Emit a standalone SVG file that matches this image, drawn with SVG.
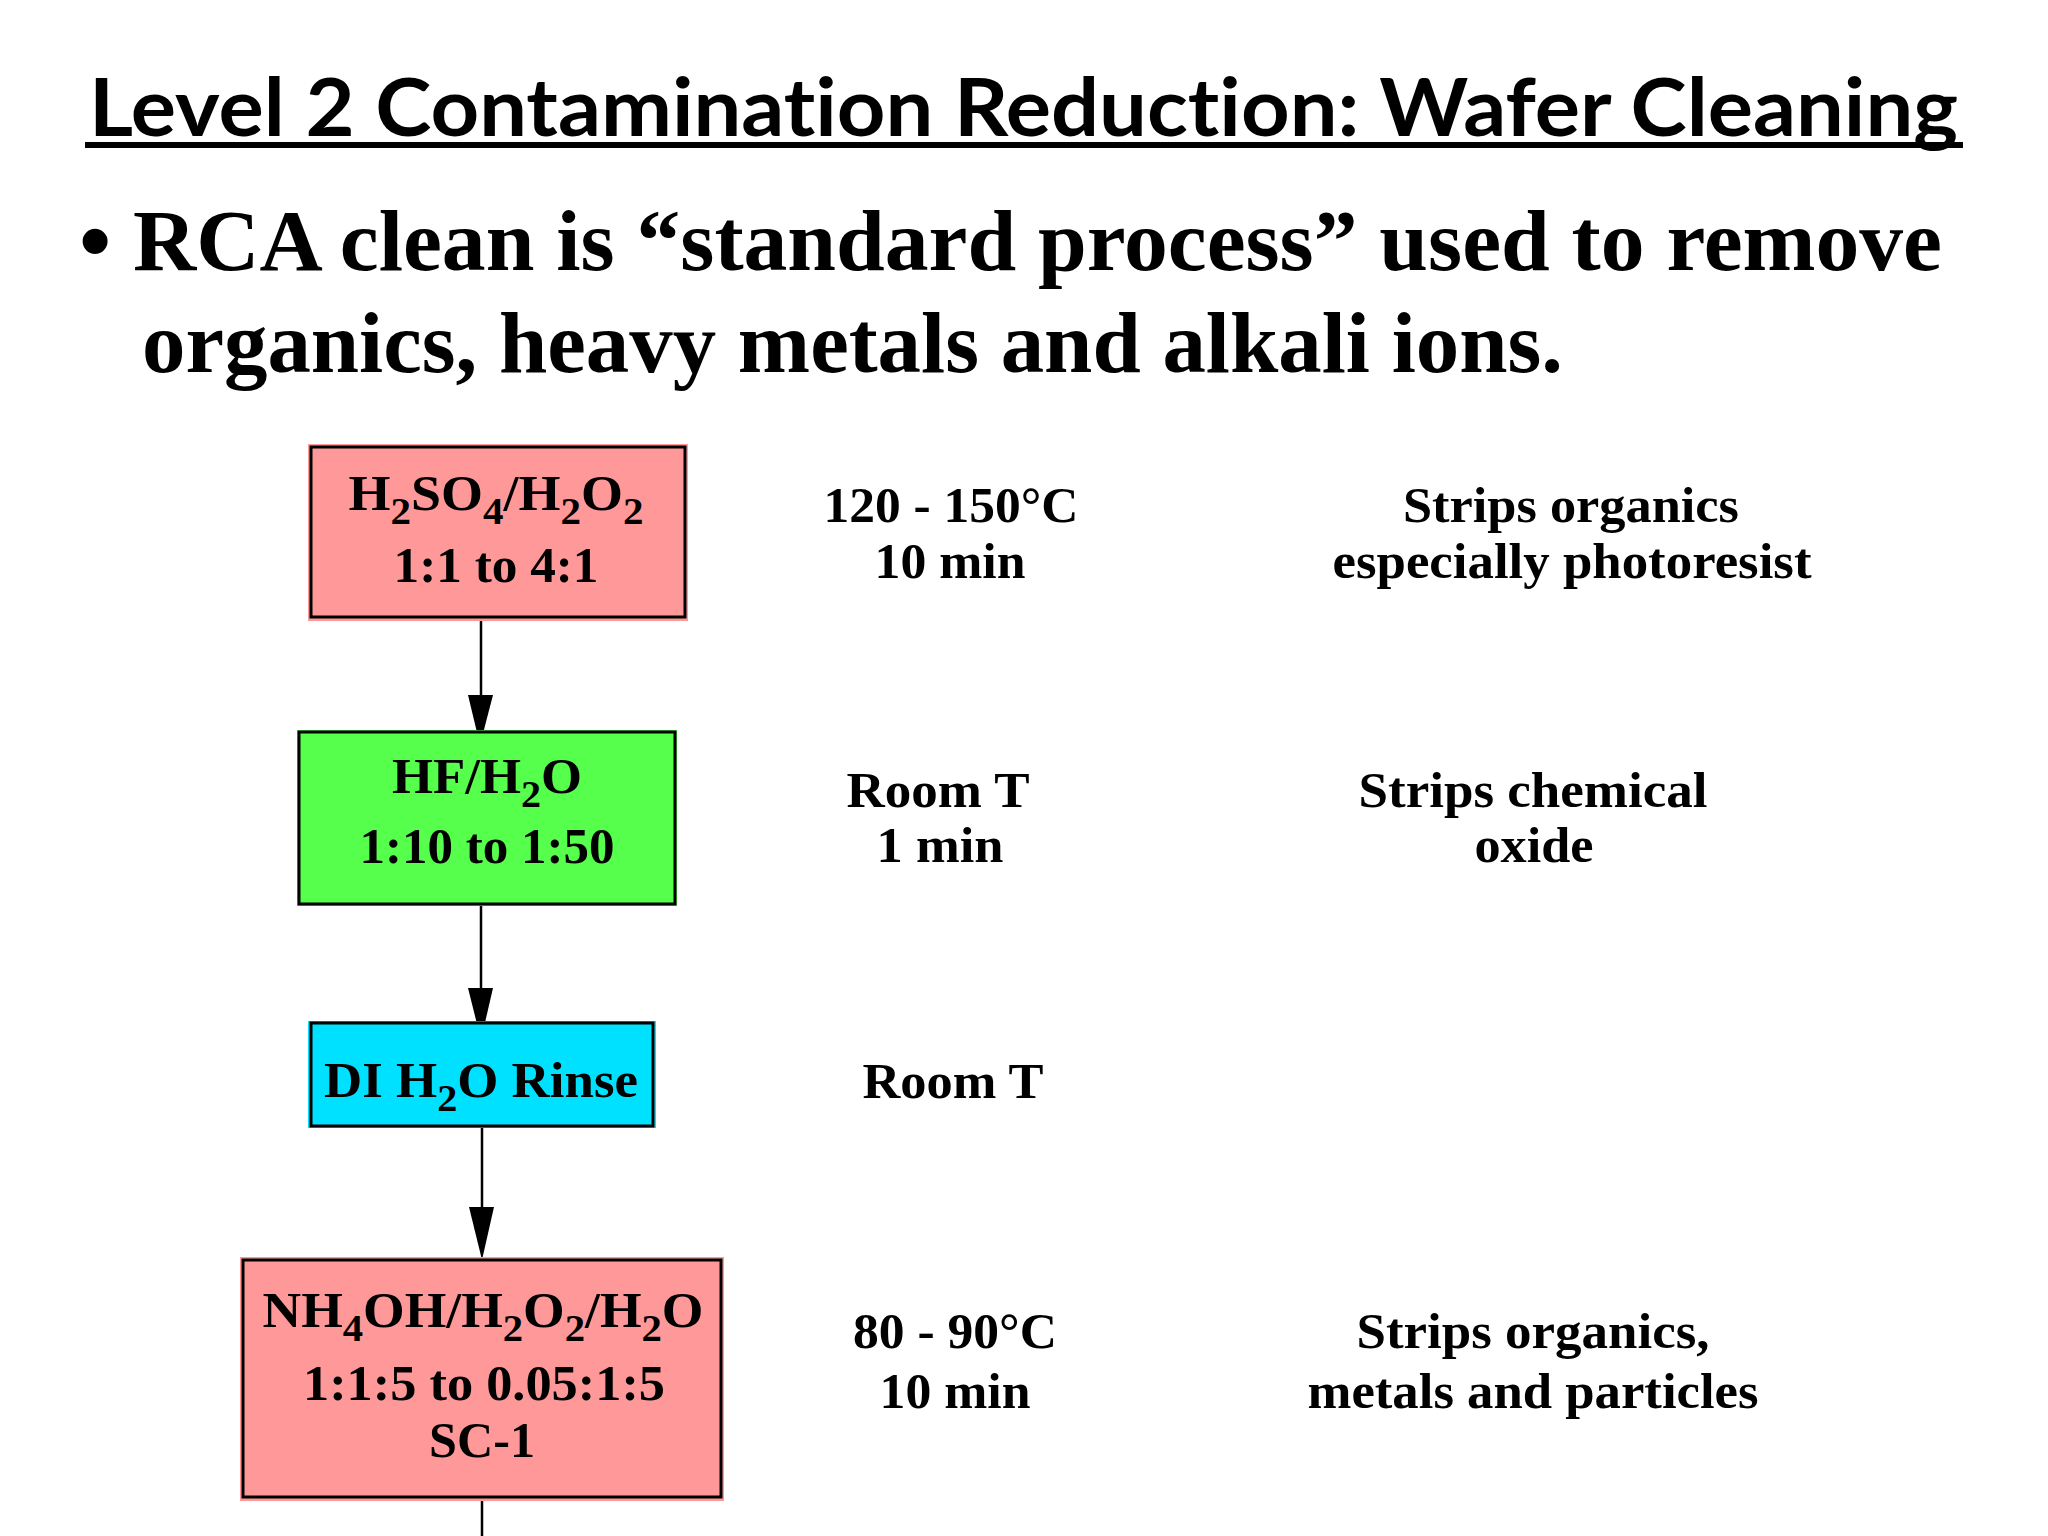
<svg xmlns="http://www.w3.org/2000/svg" width="2048" height="1536" viewBox="0 0 2048 1536">
<defs>
<style>
.title{font-family:"Lato","Open Sans","Liberation Sans",sans-serif;font-weight:700;font-size:81px;fill:#000;font-variant-ligatures:none;font-feature-settings:"liga" 0,"dlig" 0}
.bul{font-family:"Liberation Serif","Times New Roman",serif;font-weight:700;font-size:87px;fill:#000}
.t{font-family:"Liberation Serif","Times New Roman",serif;font-weight:700;font-size:50px;fill:#000;text-anchor:middle}
.sub{font-size:38px}
.box{stroke:#000;stroke-width:3}
.pink{fill:#FF9999}
.green{fill:#55FF4C}
.cyan{fill:#00E1FF}
.edge{stroke:#000;stroke-width:2.5;fill:none}
.head{fill:#000}
</style>
</defs>
<rect width="2048" height="1536" fill="#fff"/>

<g id="title">
<text class="title" x="89" y="136" textLength="1869" lengthAdjust="spacingAndGlyphs">Level 2 Contamination Reduction: Wafer Cleaning</text>
<rect x="85" y="142" width="1878" height="6" fill="#000"/>
</g>

<g id="bullet">
<text x="79" y="272" style="font-family:'Liberation Sans',Arial,sans-serif;font-size:92px;fill:#000">•</text>
<text class="bul" x="133" y="270" textLength="1809" lengthAdjust="spacingAndGlyphs">RCA clean is “standard process” used to remove</text>
<text class="bul" x="142" y="372" textLength="1421" lengthAdjust="spacingAndGlyphs">organics, heavy metals and alkali ions.</text>
</g>

<g id="connectors">
<line class="edge" x1="481" y1="618" x2="481" y2="700"/>
<path class="head" d="M468,695 L493,695 L480,745 Z"/>
<line class="edge" x1="481" y1="904" x2="481" y2="992"/>
<path class="head" d="M468,988 L493,988 L481,1040 Z"/>
<line class="edge" x1="482" y1="1126" x2="482" y2="1211"/>
<path class="head" d="M469,1207 L494,1207 L482,1260 Z"/>
<line class="edge" x1="482" y1="1498" x2="482" y2="1536"/>
</g>

<g id="node-sulfuric">
<rect x="308" y="444" width="380" height="177" fill="#FF9999"/>
<rect class="box pink" x="311" y="447" width="374" height="170"/>
<text class="t" x="496" y="510" textLength="295" lengthAdjust="spacingAndGlyphs">H<tspan class="sub" dy="14">2</tspan><tspan dy="-14">SO</tspan><tspan class="sub" dy="14">4</tspan><tspan dy="-14">/H</tspan><tspan class="sub" dy="14">2</tspan><tspan dy="-14">O</tspan><tspan class="sub" dy="14">2</tspan></text>
<text class="t" x="496" y="582" textLength="205" lengthAdjust="spacingAndGlyphs">1:1 to 4:1</text>
</g>
<g id="info-sulfuric">
<text class="t" x="951" y="522" textLength="255" lengthAdjust="spacingAndGlyphs">120 - 150°C</text>
<text class="t" x="950" y="578" textLength="151" lengthAdjust="spacingAndGlyphs">10 min</text>
<text class="t" x="1571" y="522" textLength="336" lengthAdjust="spacingAndGlyphs">Strips organics</text>
<text class="t" x="1572" y="578" textLength="479" lengthAdjust="spacingAndGlyphs">especially photoresist</text>
</g>

<g id="node-hf">
<rect x="297" y="730" width="380" height="176" fill="#55FF4C"/>
<rect class="box green" x="299" y="732" width="376" height="172"/>
<text class="t" x="487" y="793" textLength="190" lengthAdjust="spacingAndGlyphs">HF/H<tspan class="sub" dy="14">2</tspan><tspan dy="-14">O</tspan></text>
<text class="t" x="487" y="863" textLength="255" lengthAdjust="spacingAndGlyphs">1:10 to 1:50</text>
</g>
<g id="info-hf">
<text class="t" x="938" y="807" textLength="183" lengthAdjust="spacingAndGlyphs">Room T</text>
<text class="t" x="940" y="862" textLength="127" lengthAdjust="spacingAndGlyphs">1 min</text>
<text class="t" x="1533" y="807" textLength="349" lengthAdjust="spacingAndGlyphs">Strips chemical</text>
<text class="t" x="1534" y="862" textLength="119" lengthAdjust="spacingAndGlyphs">oxide</text>
</g>

<g id="node-rinse">
<rect x="308" y="1021" width="348" height="107" fill="#00E1FF"/>
<rect class="box cyan" x="311" y="1023" width="342" height="103"/>
<text class="t" x="481" y="1097" textLength="314" lengthAdjust="spacingAndGlyphs">DI H<tspan class="sub" dy="14">2</tspan><tspan dy="-14">O Rinse</tspan></text>
</g>
<g id="info-rinse">
<text class="t" x="953" y="1098" textLength="181" lengthAdjust="spacingAndGlyphs">Room T</text>
</g>

<g id="node-sc1">
<rect x="240" y="1257" width="484" height="244" fill="#FF9999"/>
<rect class="box pink" x="243" y="1260" width="478" height="237"/>
<text class="t" x="483" y="1327" textLength="441" lengthAdjust="spacingAndGlyphs">NH<tspan class="sub" dy="14">4</tspan><tspan dy="-14">OH/H</tspan><tspan class="sub" dy="14">2</tspan><tspan dy="-14">O</tspan><tspan class="sub" dy="14">2</tspan><tspan dy="-14">/H</tspan><tspan class="sub" dy="14">2</tspan><tspan dy="-14">O</tspan></text>
<text class="t" x="484" y="1400" textLength="362" lengthAdjust="spacingAndGlyphs">1:1:5 to 0.05:1:5</text>
<text class="t" x="482" y="1457" textLength="106" lengthAdjust="spacingAndGlyphs">SC-1</text>
</g>
<g id="info-sc1">
<text class="t" x="955" y="1348" textLength="204" lengthAdjust="spacingAndGlyphs">80 - 90°C</text>
<text class="t" x="955" y="1408" textLength="151" lengthAdjust="spacingAndGlyphs">10 min</text>
<text class="t" x="1533" y="1348" textLength="353" lengthAdjust="spacingAndGlyphs">Strips organics,</text>
<text class="t" x="1533" y="1408" textLength="451" lengthAdjust="spacingAndGlyphs">metals and particles</text>
</g>
</svg>
